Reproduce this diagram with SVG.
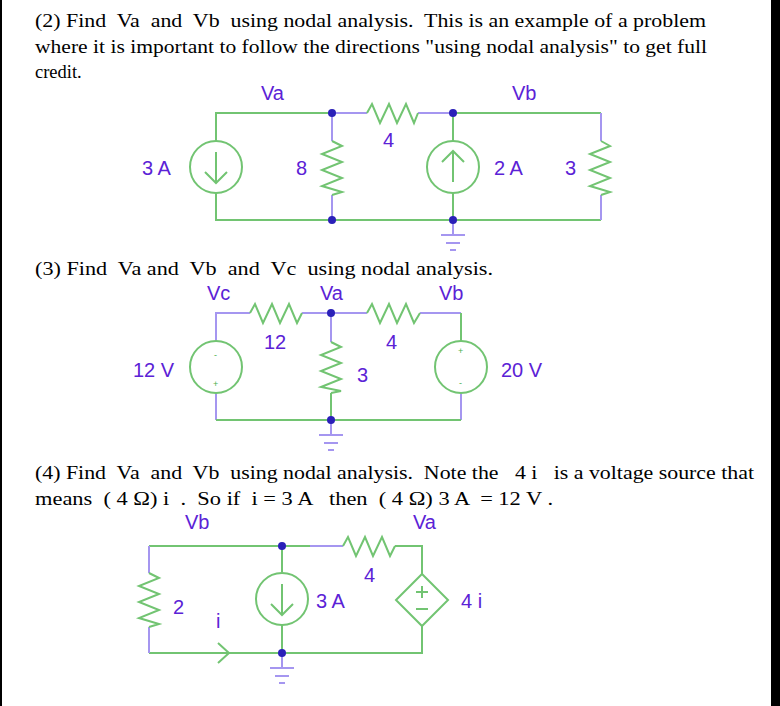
<svg xmlns="http://www.w3.org/2000/svg" width="780" height="706" viewBox="0 0 780 706">
<style>
.t{font-family:"Liberation Serif",serif;font-size:18.5px;fill:#000;white-space:pre}
.l{font-family:"Liberation Sans",Arial,sans-serif;font-size:20px;fill:#5b22d6}
.s{font-family:"Liberation Sans",Arial,sans-serif;font-size:9px;fill:#4caf4c}
.g{fill:none;stroke:#72c472;stroke-width:2}
.p{fill:none;stroke:#a596f0;stroke-width:2}
.n{fill:#2a20b8}
</style>
<rect width="780" height="706" fill="#fff"/>
<rect x="0" y="0" width="2" height="706" fill="#000"/>
<rect x="771" y="0" width="9" height="706" fill="#000"/>
<g id="text">
<text class="t" x="35" y="27" textLength="671" lengthAdjust="spacingAndGlyphs">(2) Find  Va  and  Vb  using nodal analysis.  This is an example of a problem</text>
<text class="t" x="35" y="53" textLength="672" lengthAdjust="spacingAndGlyphs">where it is important to follow the directions "using nodal analysis" to get full</text>
<text class="t" x="35" y="78">credit.</text>
<text class="t" x="35" y="275" textLength="458" lengthAdjust="spacingAndGlyphs">(3) Find  Va and  Vb  and  Vc  using nodal analysis.</text>
<text class="t" x="35" y="479" textLength="719" lengthAdjust="spacingAndGlyphs">(4) Find  Va  and  Vb  using nodal analysis.  Note the   4 i   is a voltage source that</text>
<text class="t" x="35" y="505" textLength="518" lengthAdjust="spacingAndGlyphs">means  ( 4 Ω) i  .  So if  i = 3 A   then  ( 4 Ω) 3 A  = 12 V .</text>
</g>
<g id="connectors">
<path class="g" d="M216 141 V113 H332 M453 113 H601 M216 193 V220 H601 M453 113 V141 M453 193 V220"/>
<path class="p" d="M332 113 H367 M418 113 H453 M332 113 V141 M332 195 V220 M601 113 V141 M601 195 V220"/>
<path class="p" d="M216 341 V313 H250 M302 313 H367 M420 313 H461 M216 393 V420 M461 393 V420 M331 313 V342"/>
<path class="g" d="M216 420 H461 M461 313 V341 M331 393 V420"/>
<path class="g" d="M149 546 H343 M395 546 H422 V574 M282 546 V572 M282 624 V653 M149 653 H422 V625"/>
<path class="p" d="M149 546 V573 M149 627 V653 M310 546 H343"/>
<path class="g" d="M218 643 L229 653 L218 663"/>
</g>
<g id="c1">
<g id="src3A"><circle class="g" cx="216" cy="167" r="26"/><path class="g" d="M216 152 V183 M205 172 L216 183 L227 172"/></g>
<g id="r8"><path class="g" d="M332 141 L342 146 L322 154 L342 162 L322 170 L342 178 L322 186 L342 192 L332 195"/></g>
<g id="r4"><path class="g" d="M367 113 L372 104 L380 123 L389 104 L397 123 L406 104 L414 123 L418 113"/></g>
<g id="src2A"><circle class="g" cx="453" cy="167" r="26"/><path class="g" d="M453 182 V151 M442 162 L453 151 L464 162"/></g>
<g id="r3"><path class="g" d="M601 141 L610 146 L590 154 L610 162 L590 170 L610 178 L590 186 L610 192 L601 195"/></g>
<g id="gnd1"><path class="p" d="M453 220 V235 M441 235 H465 M446 243 H460 M450 250 H456"/></g>
<circle class="n" cx="332" cy="113" r="4"/><circle class="n" cx="453" cy="113" r="4"/>
<circle class="n" cx="332" cy="220" r="4"/><circle class="n" cx="453" cy="220" r="4"/>
<text class="l" x="261" y="100">Va</text><text class="l" x="512" y="100">Vb</text>
<text class="l" x="383" y="147">4</text><text class="l" x="296" y="175">8</text>
<text class="l" x="142" y="175">3 A</text><text class="l" x="494" y="175">2 A</text><text class="l" x="565" y="175">3</text>
</g>
<g id="c2">
<g id="v12"><circle class="g" cx="216" cy="367" r="26"/><text class="s" x="214" y="358">-</text><text class="s" x="213" y="387">+</text></g>
<g id="r12"><path class="g" d="M250 313 L255 304 L263 323 L272 304 L280 323 L289 304 L297 323 L302 313"/></g>
<g id="r4b"><path class="g" d="M367 313 L372 304 L380 323 L389 304 L397 323 L406 304 L414 323 L420 313"/></g>
<g id="r3b"><path class="g" d="M331 342 L341 347 L321 355 L341 363 L321 371 L341 379 L321 387 L341 391 L331 393"/></g>
<g id="v20"><circle class="g" cx="461" cy="367" r="26"/><text class="s" x="458" y="354">+</text><text class="s" x="459" y="386">-</text></g>
<g id="gnd2"><path class="p" d="M331 420 V435 M319 435 H343 M324 443 H338 M328 450 H334"/></g>
<circle class="n" cx="331" cy="313" r="4"/><circle class="n" cx="331" cy="420" r="4"/>
<text class="l" x="207" y="300">Vc</text><text class="l" x="320" y="300">Va</text><text class="l" x="439" y="300">Vb</text>
<text class="l" x="264" y="349">12</text><text class="l" x="386" y="349">4</text><text class="l" x="357" y="382">3</text>
<text class="l" x="133" y="377">12 V</text><text class="l" x="501" y="377">20 V</text>
</g>
<g id="c3">
<g id="r2"><path class="g" d="M149 573 L159 578 L139 586 L159 594 L139 602 L159 610 L139 618 L159 624 L149 627"/></g>
<g id="src3Ab"><circle class="g" cx="282" cy="599" r="26"/><path class="g" d="M282 584 V615 M271 604 L282 615 L293 604"/></g>
<g id="r4c"><path class="g" d="M343 546 L348 537 L356 556 L365 537 L373 556 L382 537 L390 556 L395 546"/></g>
<g id="dep"><path class="g" d="M422 574 L448 600 L422 626 L396 600 Z"/><path class="g" d="M416 592 H428 M422 586 V598 M416 609 H428"/></g>
<g id="gnd3"><path class="p" d="M282 653 V668 M270 668 H294 M275 676 H289 M279 683 H285"/></g>
<circle class="n" cx="282" cy="546" r="4"/><circle class="n" cx="282" cy="653" r="4"/>
<text class="l" x="185" y="529">Vb</text><text class="l" x="413" y="529">Va</text>
<text class="l" x="364" y="582">4</text><text class="l" x="173" y="614">2</text><text class="l" x="216" y="628">i</text>
<text class="l" x="316" y="608">3 A</text><text class="l" x="461" y="608">4 i</text>
</g>
</svg>
